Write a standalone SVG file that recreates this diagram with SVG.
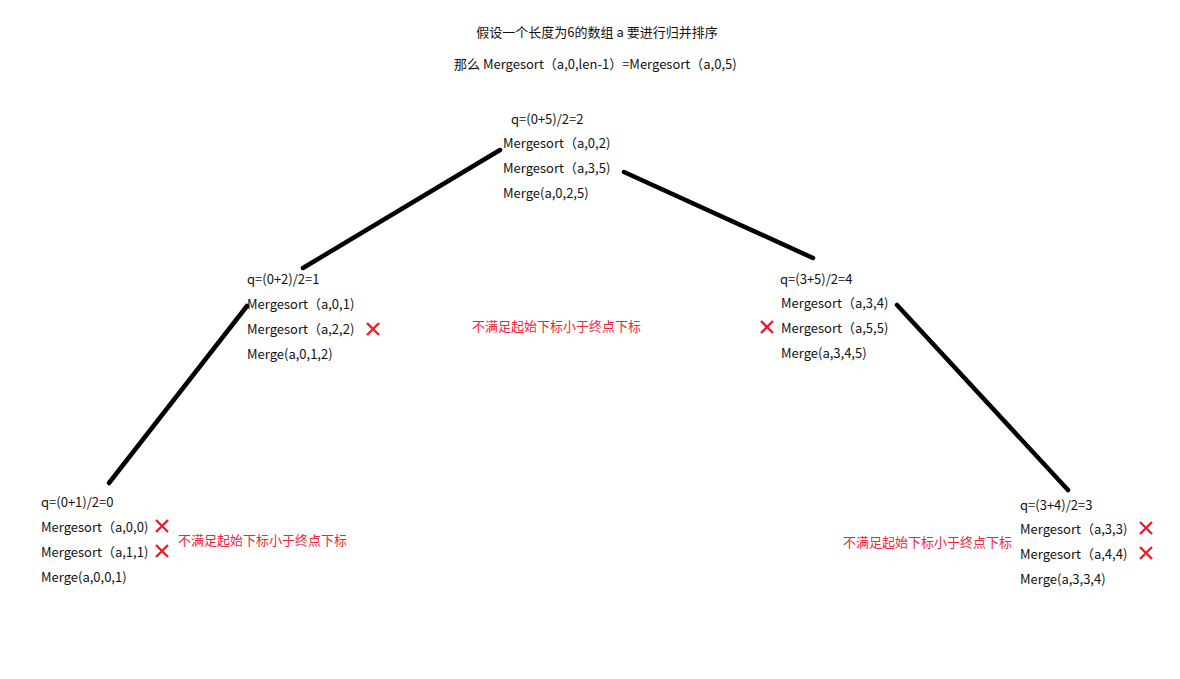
<svg xmlns="http://www.w3.org/2000/svg" width="1180" height="679" viewBox="0 0 1180 679">
<style>
text{font-family:"Noto Sans CJK SC","Noto Sans",sans-serif;font-size:13px;fill:#111}
.r{fill:#f0243a}
.edge{stroke:#000;stroke-width:4.5;stroke-linecap:round;fill:none}
.x{stroke:#ec1c2a;stroke-width:2.4;fill:none}
</style>
<defs>
<path id="cross" class="x" d="M-6,-6L6,6M6,-6L-6,6"/>
</defs>
<rect width="1180" height="679" fill="#fff"/>
<g id="title">
<text x="597" y="37" text-anchor="middle">假设一个长度为6的数组 a 要进行归并排序</text>
<text x="454" y="69">那么 Mergesort（a,0,len-1）=Mergesort（a,0,5)</text>
</g>
<g id="connectors">
<line class="edge" x1="500" y1="150" x2="303" y2="268"/>
<line class="edge" x1="624" y1="172" x2="813" y2="258"/>
<line class="edge" x1="247" y1="306" x2="109" y2="483"/>
<line class="edge" x1="897" y1="305" x2="1068" y2="490"/>
</g>
<g id="n-root">
<text x="511" y="124">q=(0+5)/2=2</text>
<text x="503" y="148">Mergesort（a,0,2)</text>
<text x="503" y="173">Mergesort（a,3,5)</text>
<text x="503" y="198">Merge(a,0,2,5)</text>
</g>
<g id="n-left">
<text x="247" y="284">q=(0+2)/2=1</text>
<text x="247" y="309">Mergesort（a,0,1)</text>
<text x="247" y="334">Mergesort（a,2,2)</text>
<text x="247" y="359">Merge(a,0,1,2)</text>
<use href="#cross" x="373" y="329"/>
<text class="r" x="472" y="331">不满足起始下标小于终点下标</text>
</g>
<g id="n-right">
<text x="780" y="284">q=(3+5)/2=4</text>
<text x="781" y="308">Mergesort（a,3,4)</text>
<text x="781" y="333">Mergesort（a,5,5)</text>
<text x="781" y="358">Merge(a,3,4,5)</text>
<use href="#cross" x="767" y="327"/>
</g>
<g id="n-leftleft">
<text x="41" y="507">q=(0+1)/2=0</text>
<text x="41" y="532">Mergesort（a,0,0)</text>
<text x="41" y="557">Mergesort（a,1,1)</text>
<text x="41" y="582">Merge(a,0,0,1)</text>
<use href="#cross" x="162" y="526"/>
<use href="#cross" x="162" y="551"/>
<text class="r" x="178" y="545">不满足起始下标小于终点下标</text>
</g>
<g id="n-rightleft">
<text x="1020" y="510">q=(3+4)/2=3</text>
<text x="1020" y="534">Mergesort（a,3,3)</text>
<text x="1020" y="559">Mergesort（a,4,4)</text>
<text x="1020" y="584">Merge(a,3,3,4)</text>
<use href="#cross" x="1146" y="528"/>
<use href="#cross" x="1146" y="553"/>
<text class="r" x="843" y="547">不满足起始下标小于终点下标</text>
</g>
</svg>
